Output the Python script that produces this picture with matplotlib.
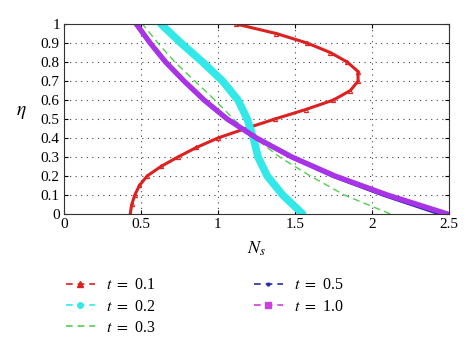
import matplotlib
matplotlib.use("Agg")
from matplotlib import pyplot as plt
from matplotlib.lines import Line2D

plt.rcParams['font.family'] = ['Liberation Serif', 'DejaVu Serif']
plt.rcParams['mathtext.fontset'] = 'stix'

# eta values and N_s readings per curve
eta_fine = [0.0, 0.05, 0.1, 0.15, 0.2, 0.25, 0.3, 0.35, 0.4, 0.45, 0.5,
            0.55, 0.6, 0.65, 0.7, 0.75, 0.8, 0.85, 0.9, 0.95, 1.0]
ns_t01 = [0.43, 0.44, 0.46, 0.49, 0.54, 0.63, 0.74, 0.86, 1.00, 1.18, 1.37,
          1.57, 1.75, 1.86, 1.91, 1.91, 1.84, 1.73, 1.58, 1.38, 1.12]

eta = [0.0, 0.1, 0.2, 0.3, 0.4, 0.5, 0.6, 0.7, 0.8, 0.9, 1.0]
ns_t02 = [1.55, 1.42, 1.32, 1.26, 1.23, 1.19, 1.13, 1.03, 0.90, 0.76, 0.63]
ns_t03 = [2.12, 1.82, 1.60, 1.40, 1.24, 1.10, 0.98, 0.85, 0.72, 0.61, 0.51]
ns_t05 = [2.45, 2.08, 1.75, 1.48, 1.25, 1.06, 0.91, 0.78, 0.66, 0.56, 0.47]
ns_t10 = [2.49, 2.10, 1.76, 1.48, 1.25, 1.06, 0.91, 0.78, 0.66, 0.56, 0.47]

labels = [r'$t$ $=$ 0.1', r'$t$ $=$ 0.2', r'$t$ $=$ 0.3', r'$t$ $=$ 0.5', r'$t$ $=$ 1.0']
colors = ['#dd2020', '#33e8e8', '#55cc55', '#2a2aa8', '#cc40dd']

fig = plt.figure(figsize=(4.74, 3.49), dpi=100)
ax = fig.add_axes([0.135, 0.387, 0.812, 0.544])

# curves (dense markers in the original look like solid thick lines)
ax.plot(ns_t01, eta_fine, '-', color=colors[0], lw=2.2, marker='^', ms=3,
        mfc='none', mec=colors[0], mew=0.8, solid_capstyle='round')
ax.plot(ns_t02, eta, '-', color=colors[1], lw=5.5, solid_capstyle='round',
        solid_joinstyle='round')
ax.plot(ns_t03, eta, '--', color=colors[2], lw=1, dashes=(5, 3))
ax.plot(ns_t05, eta, '-', color=colors[3], lw=3, solid_capstyle='round')
ax.plot(ns_t10, eta, '-', color='#a933e6', lw=3.8, solid_capstyle='round',
        solid_joinstyle='round')

ax.set_xlim(0, 2.5)
ax.set_ylim(0, 1)
ax.set_xticks([0, 0.5, 1, 1.5, 2, 2.5])
ax.set_xticklabels(['0', '0.5', '1', '1.5', '2', '2.5'])
ax.set_yticks([i / 10 for i in range(11)])
ax.set_yticklabels(['0', '0.1', '0.2', '0.3', '0.4', '0.5', '0.6', '0.7', '0.8', '0.9', '1'])
ax.tick_params(direction='in', top=True, right=True, labelsize=11, length=3, pad=3)
ax.grid(True, color='#444444', linestyle=(0, (1, 4)), lw=0.8)
for s in ax.spines.values():
    s.set_color('#333333')

ax.set_xlabel(r'$N_s$', fontsize=13, labelpad=6)
ax.set_ylabel(r'$\eta$', fontsize=14, rotation=0, labelpad=14)
ax.yaxis.set_label_coords(-0.11, 0.49)

markers = ['^', 'o', None, '.', 's']
handles = [Line2D([], [], color=c, ls='--', lw=1.2, dashes=(4, 3), marker=m,
                  ms=4, label=l)
           for c, m, l in zip(colors, markers, labels)]
fig.legend(handles=handles, ncol=2, loc='upper left',
           bbox_to_anchor=(0.122, 0.228), frameon=False, fontsize=11.5,
           handlelength=1.8, handletextpad=0.7, columnspacing=6.2,
           labelspacing=0.33, borderpad=0)

fig.savefig('out.png', dpi=100)
